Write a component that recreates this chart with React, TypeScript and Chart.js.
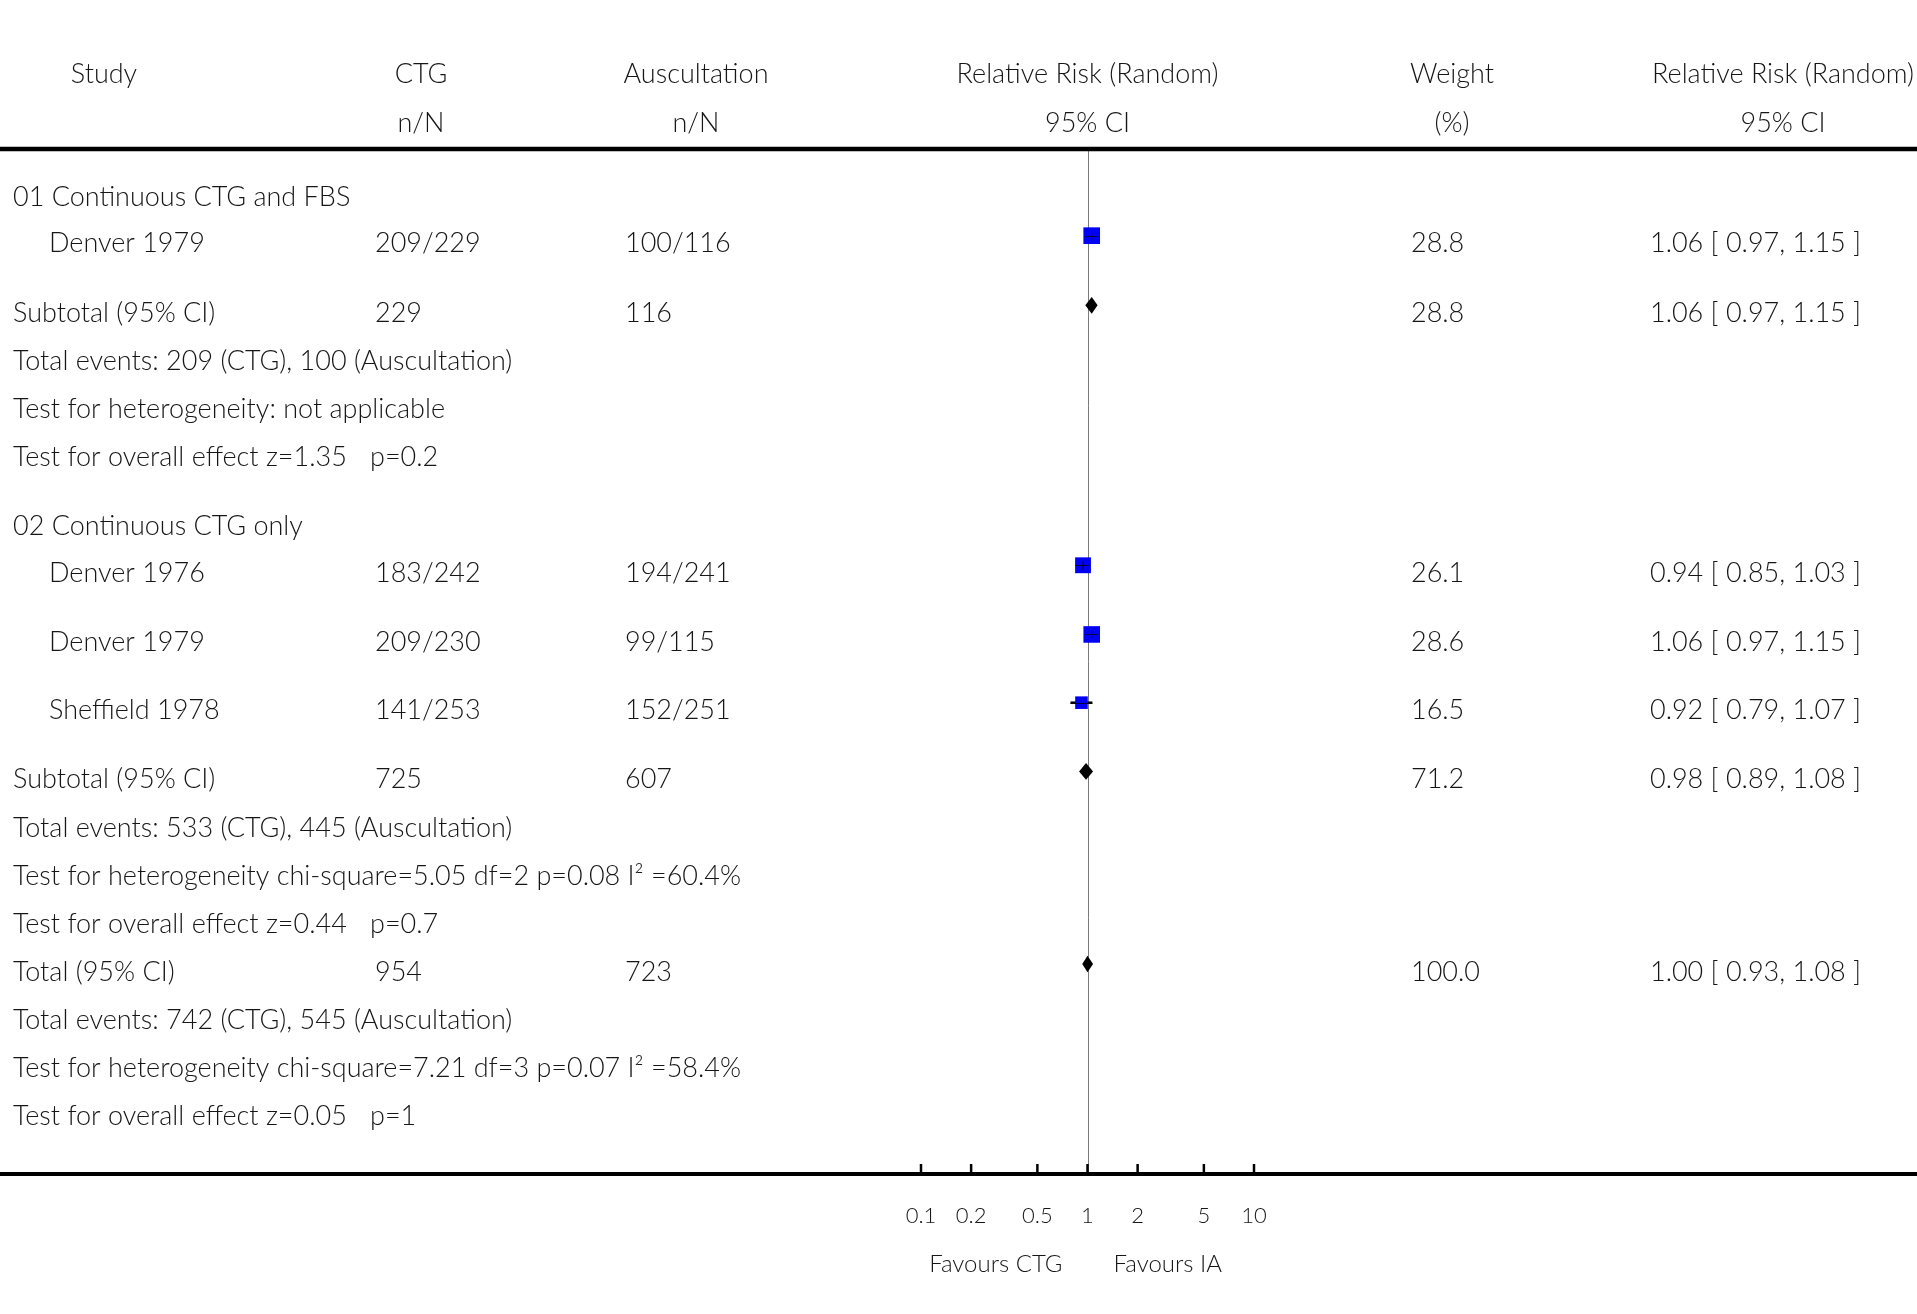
import React, { useEffect, useRef } from 'react';
import { Chart, registerables } from 'chart.js';

Chart.register(...registerables);

const FONT_FAMILY = 'Lato, "Open Sans", sans-serif';

// Column headings (two lines each)
const headTop = ['Study', 'CTG', 'Auscultation', 'Relative Risk (Random)', 'Weight', 'Relative Risk (Random)'];
const headBottom = ['', 'n/N', 'n/N', '95% CI', '(%)', '95% CI'];

// Subgroup titles and their row positions
const groupTitles = ['01 Continuous CTG and FBS', '02 Continuous CTG only'];
const groupRows = [0, 6.84];

// Individual trials
const studyNames = ['Denver 1979', 'Denver 1976', 'Denver 1979', 'Sheffield 1978'];
const studyCTG = ['209/229', '183/242', '209/230', '141/253'];
const studyIA = ['100/116', '194/241', '99/115', '152/251'];
const studyRR = [1.06, 0.94, 1.06, 0.92];
const studyLow = [0.97, 0.85, 0.97, 0.79];
const studyHigh = [1.15, 1.03, 1.15, 1.07];
const studyWeight = [28.8, 26.1, 28.6, 16.5];
const studyRows = [0.96, 7.82, 9.26, 10.68];

// Pooled estimates (subtotals and overall total)
const poolNames = ['Subtotal (95% CI)', 'Subtotal (95% CI)', 'Total (95% CI)'];
const poolCTG = ['229', '725', '954'];
const poolIA = ['116', '607', '723'];
const poolRR = [1.06, 0.98, 1.0];
const poolLow = [0.97, 0.89, 0.93];
const poolHigh = [1.15, 1.08, 1.08];
const poolWeight = [28.8, 71.2, 100.0];
const poolRows = [2.41, 12.11, 16.12];

// Summary statistics lines
const noteTexts = [
  'Total events: 209 (CTG), 100 (Auscultation)',
  'Test for heterogeneity: not applicable',
  'Test for overall effect z=1.35',
  'Total events: 533 (CTG), 445 (Auscultation)',
  'Test for heterogeneity chi-square=5.05 df=2 p=0.08 I\u00B2 =60.4%',
  'Test for overall effect z=0.44',
  'Total events: 742 (CTG), 545 (Auscultation)',
  'Test for heterogeneity chi-square=7.21 df=3 p=0.07 I\u00B2 =58.4%',
  'Test for overall effect z=0.05',
];
const noteRows = [3.41, 4.41, 5.41, 13.12, 14.12, 15.12, 17.12, 18.12, 19.12];
const pValues = ['p=0.2', 'p=0.7', 'p=1'];
const pRows = [5.41, 15.12, 19.12];

// Relative risk axis
const tickValues = [0.1, 0.2, 0.5, 1, 2, 5, 10];
const tickLabels = ['0.1', '0.2', '0.5', '1', '2', '5', '10'];
const favourLabels = ['Favours CTG', 'Favours IA'];

const fmtWeight = (w: number) => w.toFixed(1);
const fmtCI = (rr: number, lo: number, hi: number) =>
  `${rr.toFixed(2)} [ ${lo.toFixed(2)}, ${hi.toFixed(2)} ]`;

const TEXT_COLOR = '#161616';
const BODY_FONT = `300 27px ${FONT_FAMILY}`;
const TICK_FONT = `300 22px ${FONT_FAMILY}`;
const FAVOUR_FONT = `300 24px ${FONT_FAMILY}`;
const TEXT_DROP = 8; // text centre sits slightly below the marker centre

// Column x positions
const COL = { label: 13, indent: 49, ctg: 375, ia: 625, p: 370, weight: 1411, ci: 1650 };
const HEAD_X = [104, 421, 696, -1, 1452, 1783];

const forestPlugin = {
  id: 'forestLayout',
  beforeDatasetsDraw(chart: any) {
    const { ctx, chartArea, scales, width } = chart;
    const xs = scales.x;
    const ys = scales.y;
    const x1 = xs.getPixelForValue(1);
    ctx.save();
    // reference line at RR = 1
    ctx.strokeStyle = '#7a7a7a';
    ctx.lineWidth = 1;
    ctx.beginPath();
    ctx.moveTo(Math.round(x1) + 0.5, chartArea.top);
    ctx.lineTo(Math.round(x1) + 0.5, chartArea.bottom);
    ctx.stroke();

    // heading rule and axis rule
    ctx.strokeStyle = '#000';
    ctx.lineWidth = 4.5;
    ctx.beginPath();
    ctx.moveTo(0, chartArea.top);
    ctx.lineTo(width, chartArea.top);
    ctx.stroke();
    ctx.lineWidth = 4;
    ctx.beginPath();
    ctx.moveTo(0, chartArea.bottom);
    ctx.lineTo(width, chartArea.bottom);
    ctx.stroke();

    // axis ticks
    ctx.lineWidth = 2.5;
    tickValues.forEach((v) => {
      const px = xs.getPixelForValue(v);
      ctx.beginPath();
      ctx.moveTo(px, chartArea.bottom - 10);
      ctx.lineTo(px, chartArea.bottom);
      ctx.stroke();
    });

    // confidence intervals of trials (under the squares)
    ctx.lineWidth = 2.5;
    studyRR.forEach((_, i) => {
      const y = ys.getPixelForValue(studyRows[i]);
      ctx.beginPath();
      ctx.moveTo(xs.getPixelForValue(studyLow[i]), y);
      ctx.lineTo(xs.getPixelForValue(studyHigh[i]), y);
      ctx.stroke();
    });
    ctx.restore();
  },
  afterDatasetsDraw(chart: any) {
    const { ctx, chartArea, scales } = chart;
    const xs = scales.x;
    const ys = scales.y;
    const x1 = xs.getPixelForValue(1);
    ctx.save();

    // thin interval line and point mark over each square
    ctx.strokeStyle = 'rgba(0,0,0,0.75)';
    ctx.lineWidth = 1;
    studyRR.forEach((rr, i) => {
      const y = Math.round(ys.getPixelForValue(studyRows[i])) + 0.5;
      const px = xs.getPixelForValue(rr);
      ctx.beginPath();
      ctx.moveTo(xs.getPixelForValue(studyLow[i]), y);
      ctx.lineTo(xs.getPixelForValue(studyHigh[i]), y);
      ctx.moveTo(px, y - 4);
      ctx.lineTo(px, y + 4);
      ctx.stroke();
    });

    // pooled diamonds
    ctx.fillStyle = '#000';
    poolRR.forEach((rr, i) => {
      const y = ys.getPixelForValue(poolRows[i]);
      const xl = xs.getPixelForValue(poolLow[i]);
      const xm = xs.getPixelForValue(rr);
      const xh = xs.getPixelForValue(poolHigh[i]);
      ctx.beginPath();
      ctx.moveTo(xl, y);
      ctx.lineTo(xm, y - 8.3);
      ctx.lineTo(xh, y);
      ctx.lineTo(xm, y + 8.3);
      ctx.closePath();
      ctx.fill();
    });

    ctx.fillStyle = TEXT_COLOR;
    ctx.textBaseline = 'middle';

    // headings
    ctx.font = BODY_FONT;
    ctx.textAlign = 'center';
    headTop.forEach((t, i) => {
      const hx = HEAD_X[i] < 0 ? x1 : HEAD_X[i];
      ctx.fillText(t, hx, chartArea.top - 75);
      if (headBottom[i]) ctx.fillText(headBottom[i], hx, chartArea.top - 26);
    });

    const rowY = (r: number) => ys.getPixelForValue(r) + TEXT_DROP;

    ctx.textAlign = 'left';
    groupTitles.forEach((t, i) => ctx.fillText(t, COL.label, rowY(groupRows[i])));

    studyNames.forEach((name, i) => {
      const y = rowY(studyRows[i]);
      ctx.fillText(name, COL.indent, y);
      ctx.fillText(studyCTG[i], COL.ctg, y);
      ctx.fillText(studyIA[i], COL.ia, y);
      ctx.fillText(fmtWeight(studyWeight[i]), COL.weight, y);
      ctx.fillText(fmtCI(studyRR[i], studyLow[i], studyHigh[i]), COL.ci, y);
    });

    poolNames.forEach((name, i) => {
      const y = rowY(poolRows[i]);
      ctx.fillText(name, COL.label, y);
      ctx.fillText(poolCTG[i], COL.ctg, y);
      ctx.fillText(poolIA[i], COL.ia, y);
      ctx.fillText(fmtWeight(poolWeight[i]), COL.weight, y);
      ctx.fillText(fmtCI(poolRR[i], poolLow[i], poolHigh[i]), COL.ci, y);
    });

    noteTexts.forEach((t, i) => ctx.fillText(t, COL.label, rowY(noteRows[i])));
    pValues.forEach((t, i) => ctx.fillText(t, COL.p, rowY(pRows[i])));

    // axis labels
    ctx.font = TICK_FONT;
    ctx.textAlign = 'center';
    tickValues.forEach((v, i) => ctx.fillText(tickLabels[i], xs.getPixelForValue(v), chartArea.bottom + 42));
    ctx.font = FAVOUR_FONT;
    ctx.textAlign = 'right';
    ctx.fillText(favourLabels[0], x1 - 25, chartArea.bottom + 90);
    ctx.textAlign = 'left';
    ctx.fillText(favourLabels[1], x1 + 26, chartArea.bottom + 90);

    ctx.restore();
  },
};

export default function App() {
  const canvasRef = useRef<HTMLCanvasElement | null>(null);

  useEffect(() => {
    if (!canvasRef.current) return;
    const chart = new Chart(canvasRef.current, {
      type: 'scatter',
      data: {
        datasets: [
          {
            label: 'Trials',
            data: studyRR.map((rr, i) => ({ x: rr, y: studyRows[i] })),
            pointStyle: 'rect',
            pointRadius: studyWeight.map((w) => (3.1 * Math.sqrt(w)) / Math.SQRT2),
            backgroundColor: '#0000f5',
            borderWidth: 0,
          },
        ],
      },
      options: {
        responsive: false,
        animation: false,
        events: [],
        layout: { padding: { left: 921, right: 663, top: 149, bottom: 140 } },
        plugins: { legend: { display: false }, tooltip: { enabled: false } },
        scales: {
          x: { type: 'logarithmic', min: 0.1, max: 10, display: false },
          y: { type: 'linear', reverse: true, min: -0.844, max: 20.49, display: false },
        },
      },
      plugins: [forestPlugin],
    });
    return () => chart.destroy();
  }, []);

  return (
    <div style={{ position: 'fixed', left: 0, top: 0, width: 1917, height: 1314, background: '#fff' }}>
      <canvas ref={canvasRef} width={1917} height={1314} />
    </div>
  );
}
